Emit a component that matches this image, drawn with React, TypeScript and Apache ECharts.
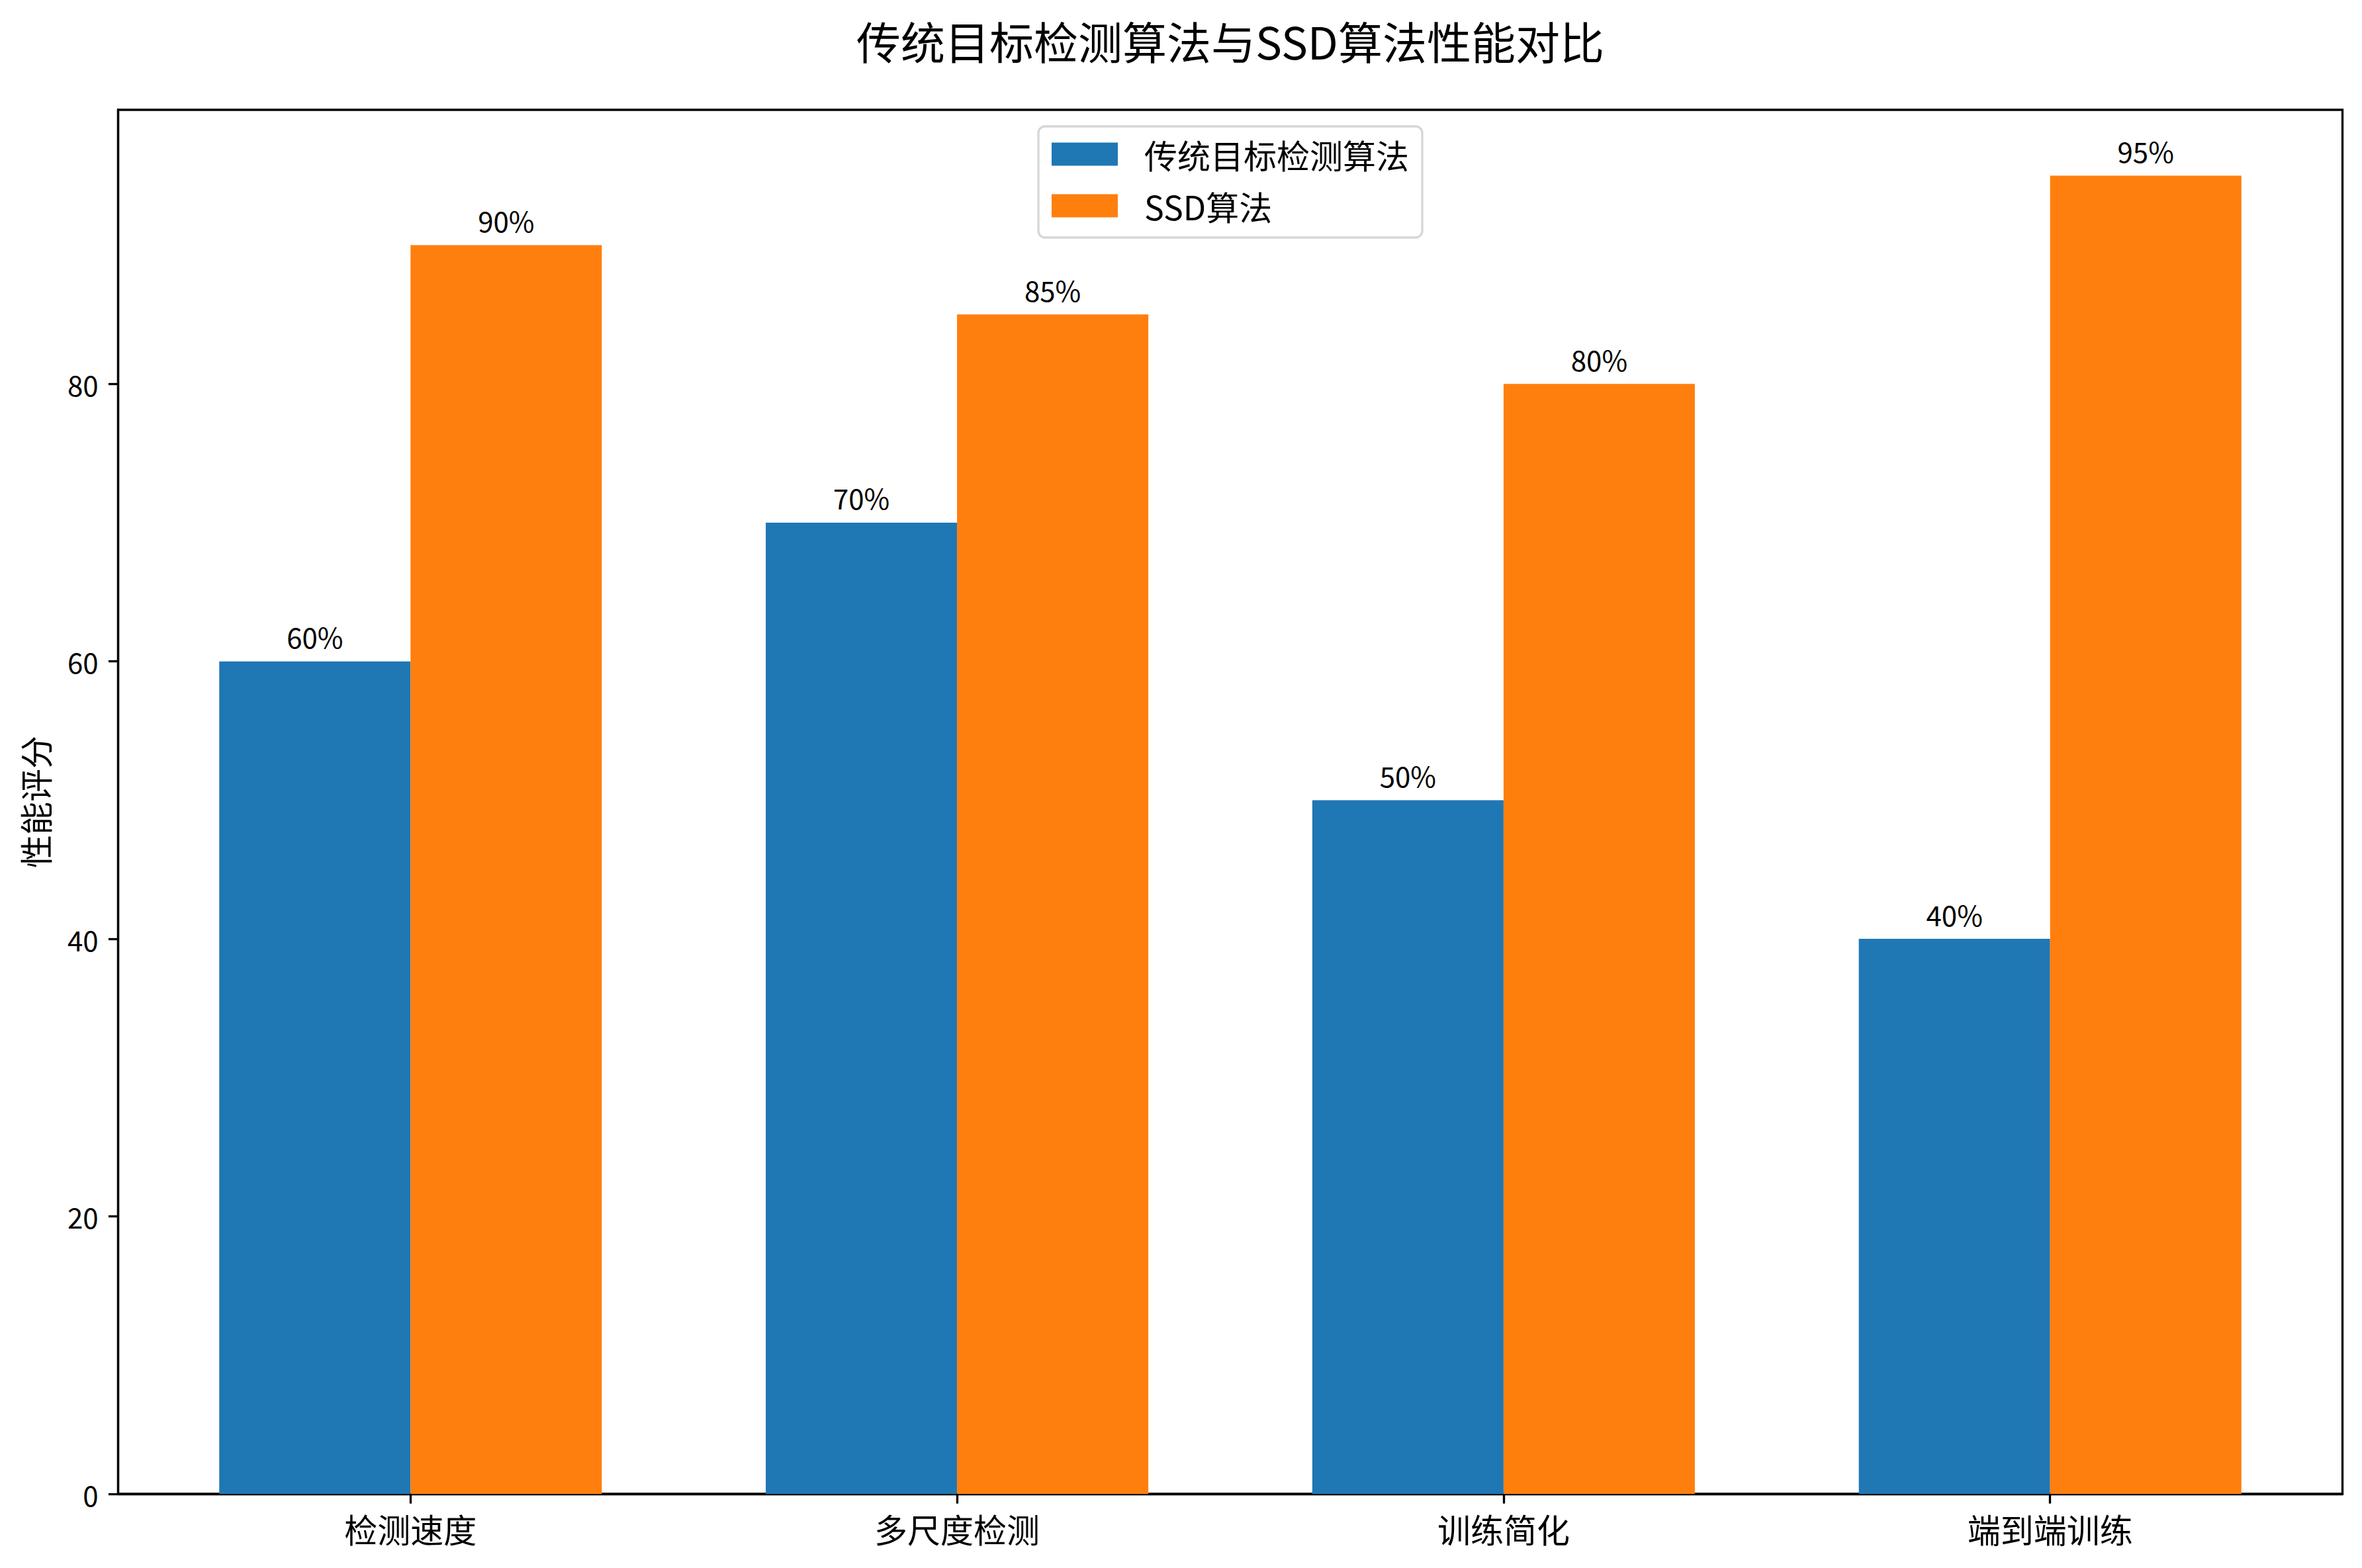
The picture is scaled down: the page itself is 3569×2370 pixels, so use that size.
import React, { useEffect, useRef } from "react";
import * as echarts from "echarts";

const categories = ["检测速度", "多尺度检测", "训练简化", "端到端训练"];
const traditionalValues = [60, 70, 50, 40];
const ssdValues = [90, 85, 80, 95];
const seriesNames = ["传统目标检测算法", "SSD算法"];
const yTicks = [0, 20, 40, 60, 80];
const xTicks = [0, 1, 2, 3];
const titleText = "传统目标检测算法与SSD算法性能对比";
const yAxisName = "性能评分";

const FONT = "'Noto Sans CJK SC', 'Noto Sans', sans-serif";
const BAR_W = 0.35;
const COLORS = ["#1f77b4", "#ff7f0e"];

function makeRender(offset: number, color: string) {
  return (params: any, api: any) => {
    const x = api.value(0);
    const v = api.value(1);
    const p0 = api.coord([x + offset, v]);
    const p1 = api.coord([x + offset + BAR_W, 0]);
    return {
      type: "group",
      children: [
        {
          type: "rect",
          shape: { x: p0[0], y: p0[1], width: p1[0] - p0[0], height: p1[1] - p0[1] },
          style: { fill: color },
        },
        {
          type: "text",
          x: (p0[0] + p1[0]) / 2,
          y: p0[1] - 38,
          style: {
            text: v + "%",
            fill: "#000",
            fontSize: 42,
            fontFamily: FONT,
            align: "center",
            verticalAlign: "middle",
            textAlign: "center",
            textVerticalAlign: "middle",
          },
        },
      ],
    };
  };
}

export default function App() {
  const ref = useRef<HTMLDivElement>(null);
  useEffect(() => {
    document.body.style.margin = "0";
    const chart = echarts.init(ref.current!, null, { renderer: "svg" });
    const left = 178.5;
    const right = 29.5;
    const top = 166;
    const bottom = 112;
    const plotCenterX = left + (3569 - left - right) / 2;
    const plotCenterY = top + (2370 - top - bottom) / 2;
    chart.setOption({
      animation: false,
      color: COLORS,
      textStyle: { fontFamily: FONT },
      grid: {
        left,
        right,
        top,
        bottom,
        show: true,
        borderColor: "#000",
        borderWidth: 3.3,
        backgroundColor: "transparent",
      },
      graphic: [
        {
          type: "text",
          x: plotCenterX,
          y: 60,
          style: {
            text: titleText,
            fill: "#000",
            fontSize: 67,
            fontFamily: FONT,
            align: "center",
            verticalAlign: "middle",
            textAlign: "center",
            textVerticalAlign: "middle",
          },
        },
        {
          type: "text",
          x: 52,
          y: plotCenterY,
          rotation: Math.PI / 2,
          style: {
            text: yAxisName,
            fill: "#000",
            fontSize: 50,
            fontFamily: FONT,
            align: "center",
            verticalAlign: "middle",
            textAlign: "center",
            textVerticalAlign: "middle",
          },
        },
      ],
      legend: {
        orient: "vertical",
        left: 1569,
        top: 191,
        padding: [14, 20, 20, 20],
        itemWidth: 100,
        itemHeight: 35,
        itemGap: 22,
        icon: "rect",
        borderColor: "#d6d6d6",
        borderWidth: 3.3,
        borderRadius: 10,
        backgroundColor: "rgba(255,255,255,0.8)",
        textStyle: {
          fontSize: 50,
          lineHeight: 56,
          fontFamily: FONT,
          color: "#000",
          padding: [0, 0, 0, 35],
        },
        data: seriesNames,
      },
      xAxis: {
        type: "value",
        min: -0.535,
        max: 3.535,
        axisLine: { show: true, onZero: false, lineStyle: { color: "#000", width: 3.3 } },
        axisTick: {
          show: true,
          customValues: xTicks,
          length: 14.6,
          lineStyle: { color: "#000", width: 3.3 },
        },
        axisLabel: {
          show: true,
          customValues: xTicks,
          formatter: (v: number) => categories[Math.round(v)] ?? "",
          fontSize: 50,
          lineHeight: 50,
          margin: 27,
          color: "#000",
          fontFamily: FONT,
        },
        splitLine: { show: false },
      },
      yAxis: {
        type: "value",
        min: 0,
        max: 99.75,
        axisLine: { show: true, onZero: false, lineStyle: { color: "#000", width: 3.3 } },
        axisTick: {
          show: true,
          customValues: yTicks,
          length: 14.6,
          lineStyle: { color: "#000", width: 3.3 },
        },
        axisLabel: {
          show: true,
          customValues: yTicks,
          fontSize: 42,
          margin: 30,
          color: "#000",
          fontFamily: FONT,
        },
        splitLine: { show: false },
      },
      series: [
        {
          type: "custom",
          name: seriesNames[0],
          itemStyle: { color: COLORS[0] },
          renderItem: makeRender(-BAR_W, COLORS[0]),
          data: traditionalValues.map((v, i) => [i, v]),
          encode: { x: 0, y: 1 },
        },
        {
          type: "custom",
          name: seriesNames[1],
          itemStyle: { color: COLORS[1] },
          renderItem: makeRender(0, COLORS[1]),
          data: ssdValues.map((v, i) => [i, v]),
          encode: { x: 0, y: 1 },
        },
      ],
    });
    return () => chart.dispose();
  }, []);
  return <div ref={ref} style={{ width: 3569, height: 2370 }} />;
}
